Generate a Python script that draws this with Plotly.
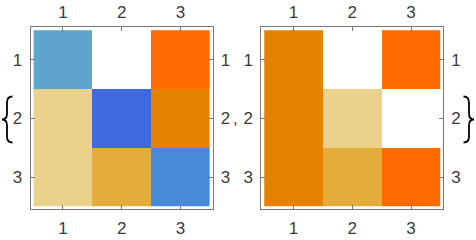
import plotly.graph_objects as go

# ---- data ----
palette = ["#FFFFFF", "#5FA4CC", "#FF6B00", "#EBD28C", "#3F69DF", "#E58200", "#E3AC3D", "#478AD6"]
rows = [1, 2, 3]
cols = [1, 2, 3]
tick_labels = ["1", "2", "3"]
left_matrix = [[1, 0, 2],
               [3, 4, 5],
               [3, 6, 7]]
right_matrix = [[5, 0, 2],
                [5, 3, 0],
                [5, 6, 2]]

W, H = 476, 240
n = len(palette)
cscale = []
for i, c in enumerate(palette):
    cscale.append([i / n, c])
    cscale.append([(i + 1) / n, c])

fig = go.Figure()
for m, xa, ya in [(left_matrix, "x", "y"), (right_matrix, "x2", "y2")]:
    fig.add_trace(go.Heatmap(z=m, x=cols, y=rows, xaxis=xa, yaxis=ya,
                             colorscale=cscale, zmin=-0.5, zmax=n - 0.5,
                             showscale=False, hoverinfo="skip"))
# invisible traces so the mirrored label axes get drawn
for xa, ya in [("x3", "y3"), ("x4", "y4")]:
    fig.add_trace(go.Scatter(x=[None], y=[None], xaxis=xa, yaxis=ya,
                             mode="markers", hoverinfo="skip", showlegend=False))

font = dict(family="Liberation Sans, Arial, sans-serif", size=17, color="#3c3c3c")
rng = [0.45, 3.55]
common = dict(tickvals=cols, ticktext=tick_labels, ticks="inside", ticklen=4,
              tickcolor="#777777", tickfont=font, showgrid=False, zeroline=False,
              fixedrange=True)

def px_x(a, b):
    return [a / W, b / W]

ydom = [1 - 209.3 / H, 1 - 27.3 / H]
doms = {"": px_x(30.7, 212.7), "2": px_x(261.3, 443.3)}
layout = {}
for k, (suffix, dom) in enumerate(doms.items()):
    xn = "x" + suffix
    yn = "y" + suffix
    o = str(3 + k)
    layout["xaxis" + suffix] = dict(domain=dom, anchor=yn, range=rng, side="bottom",
                                    showline=True, mirror=True, linecolor="#777777",
                                    linewidth=1, ticklabelstandoff=3, **common)
    layout["yaxis" + suffix] = dict(domain=ydom, anchor=xn, range=rng[::-1], side="left",
                                    showline=True, mirror=True, linecolor="#777777",
                                    linewidth=1, ticklabelstandoff=4, **common)
    layout["xaxis" + o] = dict(domain=dom, anchor="y" + o, side="top",
                               range=rng, showline=False, ticklabelstandoff=5, **common)
    layout["yaxis" + o] = dict(domain=ydom, anchor="x" + o, side="right",
                               range=rng[::-1], showline=False, ticklabelstandoff=7, **common)

def P(x, y):
    return f"{x / W:.5f},{1 - y / H:.5f}"

cy = 119.5
left_brace = (f"M {P(12.5, cy-23)} Q {P(7, cy-23)} {P(7, cy-17)} L {P(7, cy-6)} "
              f"Q {P(7, cy)} {P(2, cy)} Q {P(7, cy)} {P(7, cy+6)} L {P(7, cy+17)} "
              f"Q {P(7, cy+23)} {P(12.5, cy+23)}")
right_brace = (f"M {P(463.5, cy-23)} Q {P(469, cy-23)} {P(469, cy-17)} L {P(469, cy-6)} "
               f"Q {P(469, cy)} {P(474, cy)} Q {P(469, cy)} {P(469, cy+6)} L {P(469, cy+17)} "
               f"Q {P(469, cy+23)} {P(463.5, cy+23)}")
shapes = [dict(type="path", xref="paper", yref="paper", path=p,
               line=dict(color="black", width=1.8)) for p in (left_brace, right_brace)]

fig.update_layout(width=W, height=H, margin=dict(l=0, r=0, t=0, b=0),
                  paper_bgcolor="white", plot_bgcolor="rgba(0,0,0,0)", showlegend=False,
                  shapes=shapes, **layout,
                  annotations=[dict(text=",", xref="paper", yref="paper",
                                    x=235.5 / W, y=1 - 118.7 / H, showarrow=False,
                                    xanchor="center", yanchor="middle", font=font)])

fig.write_html("out.html")
